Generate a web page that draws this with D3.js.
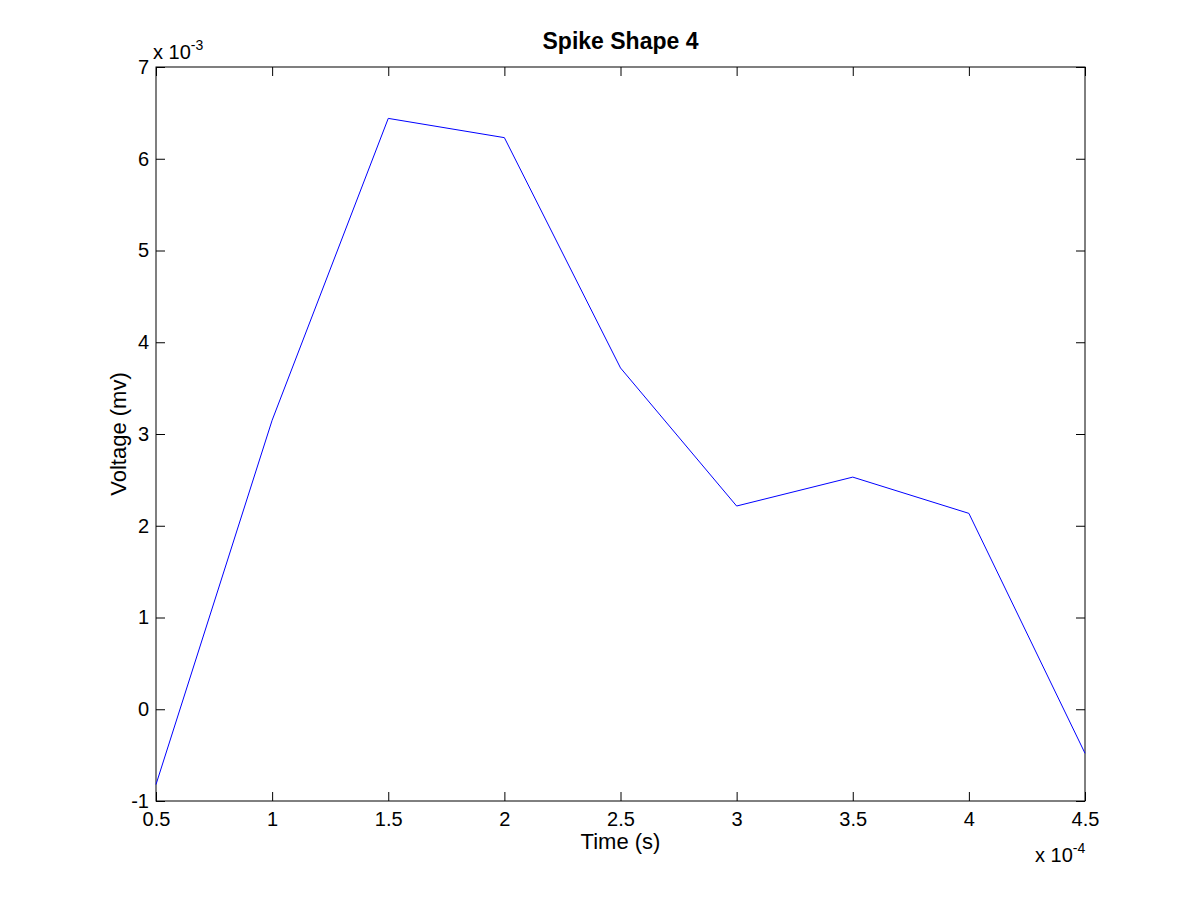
<!DOCTYPE html>
<html><head><meta charset="utf-8">
<script src="https://cdn.jsdelivr.net/npm/d3@7"></script>
<style>body{margin:0;background:#fff}svg{display:block}text{font-family:"Liberation Sans",Arial,sans-serif;fill:#000}</style>
</head><body>
<svg id="c" width="1200" height="900"></svg>
<script>
const times = [0.5, 1, 1.5, 2, 2.5, 3, 3.5, 4, 4.5];
const voltage = [-0.82, 3.15, 6.44, 6.23, 3.72, 2.215, 2.53, 2.135, -0.48];
const xTicks = [0.5, 1, 1.5, 2, 2.5, 3, 3.5, 4, 4.5];
const yTicks = [-1, 0, 1, 2, 3, 4, 5, 6, 7];
const title = "Spike Shape 4";
const xLabel = "Time (s)";
const yLabel = "Voltage (mv)";

const svg = d3.select("#c");
const L = 156, R = 1085, T = 67, B = 801;
const x = d3.scaleLinear().domain([0.5, 4.5]).range([L, R]);
const y = d3.scaleLinear().domain([-1, 7]).range([B, T]);
svg.append("rect").attr("width",1200).attr("height",900).attr("fill","#fff");
const fs = 20, tl = 9;
const fmt = d => String(d);
// bottom
svg.append("g").attr("transform",`translate(0,${B})`)
  .call(d3.axisBottom(x).tickValues(xTicks).tickFormat(fmt).tickSizeInner(-tl).tickSizeOuter(0).tickPadding(11))
  .call(g=>{g.select(".domain").remove();g.selectAll("text").attr("font-size",fs).attr("font-family","Liberation Sans, Arial");});
svg.append("g").attr("transform",`translate(0,${T})`)
  .call(d3.axisTop(x).tickValues(xTicks).tickFormat("").tickSizeInner(-tl).tickSizeOuter(0))
  .call(g=>g.select(".domain").remove());
svg.append("g").attr("transform",`translate(${L},0)`)
  .call(d3.axisLeft(y).tickValues(yTicks).tickFormat(fmt).tickSizeInner(-tl).tickSizeOuter(0).tickPadding(7))
  .call(g=>{g.select(".domain").remove();g.selectAll("text").attr("font-size",fs).attr("font-family","Liberation Sans, Arial");});
svg.append("g").attr("transform",`translate(${R},0)`)
  .call(d3.axisRight(y).tickValues(yTicks).tickFormat("").tickSizeInner(-tl).tickSizeOuter(0))
  .call(g=>g.select(".domain").remove());
svg.selectAll(".tick line").attr("stroke","#000");
svg.append("rect").attr("x",L).attr("y",T).attr("width",R-L).attr("height",B-T)
  .attr("fill","none").attr("stroke","#000").attr("stroke-width",1);

const line = d3.line().x((d,i)=>x(times[i])).y(d=>y(d));
svg.append("path").datum(voltage).attr("d",line).attr("fill","none").attr("stroke","#0000ff").attr("stroke-width",1);

svg.append("text").attr("x",(L+R)/2).attr("y",49).attr("text-anchor","middle").attr("font-size",23).attr("font-weight","bold").text(title);
svg.append("text").attr("x",(L+R)/2).attr("y",849).attr("text-anchor","middle").attr("font-size",22).text(xLabel);
svg.append("text").attr("transform",`translate(126,${(T+B)/2}) rotate(-90)`).attr("text-anchor","middle").attr("font-size",22).text(yLabel);
// exponents
const e1 = svg.append("text").attr("x",153).attr("y",59).attr("font-size",fs);
e1.append("tspan").text("x 10");
e1.append("tspan").attr("dy",-9).attr("font-size",14).text("-3");
const e2 = svg.append("text").attr("x",1035).attr("y",862).attr("font-size",fs);
e2.append("tspan").text("x 10");
e2.append("tspan").attr("dy",-9).attr("font-size",14).text("-4");
</script>
</body></html>
